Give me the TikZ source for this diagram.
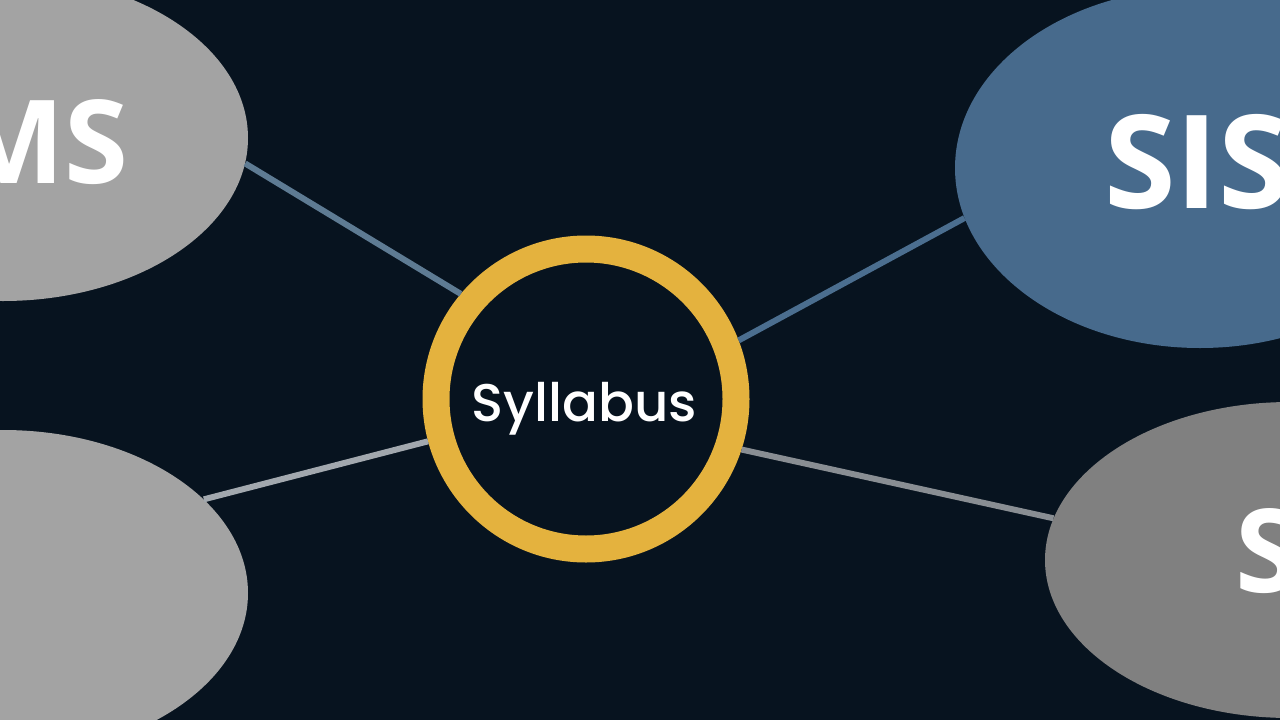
\documentclass[tikz,border=0pt]{standalone}
\usepackage{fontspec}
\setmainfont{Open Sans}
\newfontfamily\sylfont{Poppins Medium}
\usetikzlibrary{shapes.geometric}
\definecolor{bg}{HTML}{07131F}
\definecolor{grayA}{HTML}{A3A3A3}
\definecolor{grayB}{HTML}{808080}
\definecolor{blueA}{HTML}{476A8C}
\definecolor{gold}{HTML}{E4B23E}
\definecolor{lnA}{HTML}{5E7B93}
\definecolor{lnB}{HTML}{4B6E8F}
\definecolor{lnC}{HTML}{A2A8AE}
\definecolor{lnD}{HTML}{898E93}
\tikzset{
  bubble/.style={ellipse, inner sep=0pt, minimum width=490pt},
  tag/.style={text=white, inner sep=0pt, font=\fontsize{#1}{#1}\selectfont\bfseries},
  link/.style={line width=6pt},
}
\begin{document}
\begin{tikzpicture}[x=1pt,y=-1pt]
\useasboundingbox (0,0) rectangle (1280,720);
\fill[bg] (0,0) rectangle (1280,720);
\clip (0,0) rectangle (1280,720);

\node[bubble, fill=grayA, minimum height=326pt] (lms) at (3,138) {};
\node[bubble, fill=grayA, minimum height=326pt] (bl) at (3,593) {};
\node[bubble, fill=blueA, minimum height=360pt] (sis) at (1200,168) {};
\node[bubble, fill=grayB, minimum height=316pt] (br) at (1290,560) {};
\node[circle, draw=gold, line width=27pt, minimum size=300pt, inner sep=0pt] (syl) at (586,399) {};

\node[tag=116, anchor=base east] (lmst) at (129,183) {MS};
\node[tag=130, anchor=base west] (sist) at (1104,208) {SIS};
\node[tag=116, anchor=base west] (brt) at (1235,592) {S};
\node[text=white, inner sep=0pt, anchor=base, font=\sylfont\fontsize{53}{53}\selectfont] (sylt) at (584,421) {Syllabus};

\draw[link, lnA] (lms.-6) -- (syl.140);
\draw[link, lnB] (sis.192.5) -- (syl.21);
\draw[link, lnC] (bl.25) -- (syl.195);
\draw[link, lnD] (br.170) -- (syl.-18);
\end{tikzpicture}
\end{document}
